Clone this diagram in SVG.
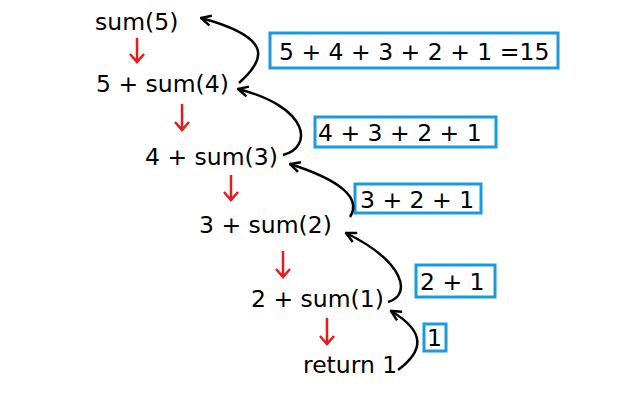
<svg xmlns="http://www.w3.org/2000/svg" width="639" height="410" viewBox="0 0 639 410">
<style>
text{font-family:"DejaVu Sans",Verdana,sans-serif;font-size:23.5px;fill:#000}
.box{fill:none;stroke:#1a9be0;stroke-width:3}
.red{stroke:#e8191f;stroke-width:2.5;fill:none}
.blk{stroke:#000;stroke-width:2.5;fill:none;marker-end:url(#ah)}
</style>
<defs>
<marker id="ah" viewBox="0 0 10 10" refX="9" refY="5" markerWidth="5" markerHeight="5" orient="auto" markerUnits="strokeWidth">
<path d="M1,1 L9,5 L1,9" fill="none" stroke="#000" stroke-width="2"/>
</marker>
</defs>
<rect width="639" height="410" fill="#fff"/>
<g id="n5"><text x="95" y="30">sum(5)</text></g>
<g id="n4"><text x="96" y="92">5 + sum(4)</text></g>
<g id="n3"><text x="145" y="165">4 + sum(3)</text></g>
<g id="n2"><text x="199" y="233">3 + sum(2)</text></g>
<g id="n1"><text x="251" y="307">2 + sum(1)</text></g>
<g id="n0"><text x="303" y="373">return 1</text></g>
<g id="b15"><rect class="box" x="270" y="33" width="288" height="35"/><text x="279" y="60">5 + 4 + 3 + 2 + 1 =15</text></g>
<g id="b10"><rect class="box" x="315" y="117" width="181" height="30"/><text x="318" y="141">4 + 3 + 2 + 1</text></g>
<g id="b6"><rect class="box" x="355" y="184" width="126" height="29"/><text x="360" y="208">3 + 2 + 1</text></g>
<g id="b3"><rect class="box" x="416" y="265" width="79" height="32"/><text x="420" y="290">2 + 1</text></g>
<g id="b1"><rect class="box" x="424" y="324" width="22" height="27"/><text x="427" y="346">1</text></g>
<g id="connectors">
<path class="red" d="M137,38 V62 M130,54 L137,62 L144,54"/>
<path class="red" d="M182,104 V130 M175,122 L182,130 L189,122"/>
<path class="red" d="M231,175 V200 M224,192 L231,200 L238,192"/>
<path class="red" d="M283,251 V277 M276,269 L283,277 L290,269"/>
<path class="red" d="M327,318 V344 M320,336 L327,344 L334,336"/>
<path class="blk" d="M239,83 C265,60 275,38 201,18"/>
<path class="blk" d="M283,155 C312,148 312,108 238,89"/>
<path class="blk" d="M350,217 C362,198 340,180 290,164"/>
<path class="blk" d="M388,302 C412,295 405,262 346,233"/>
<path class="blk" d="M398,370 C422,352 428,333 391,311"/>
</g>
</svg>
